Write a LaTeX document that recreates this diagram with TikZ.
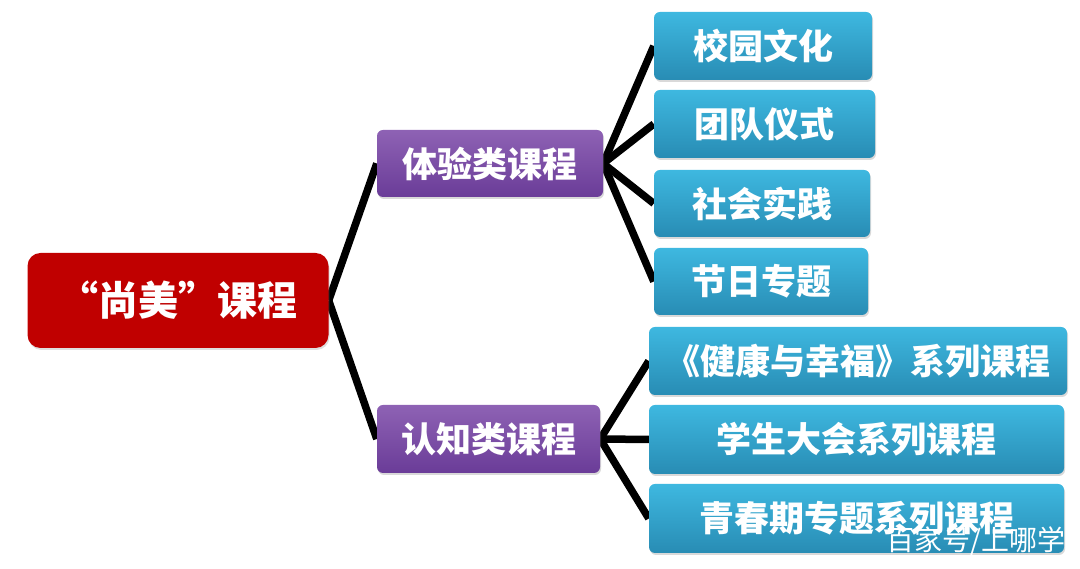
\documentclass[tikz,border=0pt]{standalone}
\usepackage{fontspec}
\newfontfamily\cjk{Noto Sans CJK SC}
\usepackage{tikz}
\usetikzlibrary{shadows,backgrounds}

\begin{document}
\begin{tikzpicture}[x=1pt,y=1pt]
                    \tikzstyle{every node}+=[inner sep=0pt, text=white, font=\cjk\bfseries\fontsize{35}{40}\selectfont]
                    \tikzstyle{rootbox}=[rounded corners=13pt, fill={rgb,255:red,192;green,0;blue,0}, drop shadow={opacity=0.25,shadow xshift=1pt,shadow yshift=-2pt}]
                    \tikzstyle{midbox}=[rounded corners=6pt, top color={rgb,255:red,142;green,98;blue,180}, bottom color={rgb,255:red,106;green,60;blue,152}, drop shadow={opacity=0.3,shadow xshift=1pt,shadow yshift=-2pt}]
                    \tikzstyle{leafbox}=[rounded corners=6pt, top color={rgb,255:red,62;green,184;blue,224}, bottom color={rgb,255:red,40;green,140;blue,180}, drop shadow={opacity=0.3,shadow xshift=1pt,shadow yshift=-2pt}]
                    \tikzstyle{branch}=[black, line width=7.5pt]
                    \useasboundingbox (0,0) rectangle (1080,569);
                    % root and the two course groups
                    \node [rootbox, minimum width=301pt, minimum height=95pt, font=\cjk\bfseries\fontsize{40}{44}\selectfont] (root) at (178,268.5) {“尚美”课程};
                    \node [midbox, minimum width=226pt, minimum height=67pt] (tiyan) at (490,405.5) {体验类课程};
                    \node [midbox, minimum width=223pt, minimum height=68pt] (renzhi) at (488.5,130) {认知类课程};
                    % leaves
                    \node [leafbox, minimum width=218pt, minimum height=68pt] (xiaoyuan) at (763,523) {校园文化};
                    \node [leafbox, minimum width=221pt, minimum height=68pt] (tuandui) at (764.5,445) {团队仪式};
                    \node [leafbox, minimum width=216pt, minimum height=67pt] (shehui) at (762,365.5) {社会实践};
                    \node [leafbox, minimum width=214pt, minimum height=67pt] (jieri) at (761,287.5) {节日专题};
                    \node [leafbox, minimum width=418pt, minimum height=68pt] (jiankang) at (858,208) {《健康与幸福》系列课程};
                    \node [leafbox, minimum width=415pt, minimum height=69pt] (dahui) at (856.5,129.5) {学生大会系列课程};
                    \node [leafbox, minimum width=415pt, minimum height=69pt] (qingchun) at (856.5,50.5) {青春期专题系列课程};
                    \begin{scope}[on background layer]
                    \draw [branch] (root.east) -- (tiyan.west);
                    \draw [branch] (root.east) -- (renzhi.west);
                    \draw [branch] (tiyan.east) -- (xiaoyuan.west);
                    \draw [branch] (tiyan.east) -- (tuandui.west);
                    \draw [branch] (tiyan.east) -- (shehui.west);
                    \draw [branch] (tiyan.east) -- (jieri.west);
                    \draw [branch] (renzhi.east) -- (jiankang.west);
                    \draw [branch] (renzhi.east) -- (dahui.west);
                    \draw [branch] (renzhi.east) -- (qingchun.west);
                    \end{scope}
                    % watermark
                    \node [font=\cjk\fontsize{28}{30}\selectfont, anchor=base east] (mark) at (1066,18) {百家号/上哪学};
                \end{tikzpicture}
\end{document}
